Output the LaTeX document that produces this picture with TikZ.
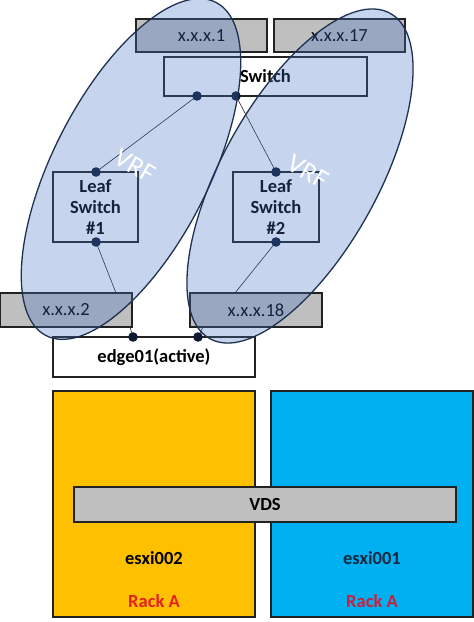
\documentclass[tikz,border=0pt]{standalone}
\usepackage{fontspec}
\setmainfont{Carlito}
\definecolor{boxgray}{HTML}{BFBFBF}
\definecolor{boxline}{HTML}{222222}
\definecolor{ellline}{HTML}{1F3050}
\definecolor{ellfill}{HTML}{4472C4}
\definecolor{dotc}{HTML}{0D1A33}
\definecolor{esxiorange}{HTML}{FFC000}
\definecolor{esxiblue}{HTML}{00B0F0}
\definecolor{rackred}{HTML}{E62020}
\definecolor{rackred2}{HTML}{C8203F}
\tikzset{
  boxnode/.style={draw=boxline, line width=1.2pt, inner sep=0pt, outer sep=0pt, anchor=north west,
    font=\fontsize{18.5}{21}\selectfont, align=center},
  graybox/.style={boxnode, fill=boxgray},
  whitebox/.style={boxnode, fill=white},
  boldtext/.style={font=\fontsize{18.5}{21}\selectfont\bfseries},
  wire/.style={draw=boxline, line width=0.6pt},
  dotmark/.style={fill=dotc},
  vrfell/.style={draw=ellline, line width=1.3pt, fill=ellfill, fill opacity=0.3, draw opacity=1},
  vrflabel/.style={text=white, font=\fontsize{27}{29}\selectfont, rotate=-30, inner sep=0pt},
  lbl/.style={font=\fontsize{18.5}{21}\selectfont\bfseries, inner sep=0pt}
}
\begin{document}
\begin{tikzpicture}[x=1pt,y=-1pt]
\useasboundingbox (0,0) rectangle (474,622);
% top boxes
\node[graybox, minimum width=131pt, minimum height=33pt] (ip1) at (136,19) {x.x.x.1};
\node[graybox, minimum width=131pt, minimum height=33pt] (ip17) at (274,19) {x.x.x.17};
\node[whitebox, boldtext, minimum width=203pt, minimum height=39pt] (sw) at (164,57) {Switch};
\node[boxnode, boldtext, minimum width=85pt, minimum height=70pt] (leaf1) at (53,172) {Leaf\\Switch\\\#1};
\node[boxnode, boldtext, minimum width=86pt, minimum height=70pt] (leaf2) at (233,172) {Leaf\\Switch\\\#2};
\node[graybox, minimum width=132pt, minimum height=34pt] (ip2) at (0,293) {x.x.x.2};
\node[graybox, minimum width=132pt, minimum height=34pt] (ip18) at (190,293) {x.x.x.18};
\node[whitebox, boldtext, minimum width=202pt, minimum height=40pt] (edge) at (53,337) {edge01(active)};
% connection points
\coordinate (s1) at (197,96);
\coordinate (s2) at (236,96);
\coordinate (l1t) at (96,172);
\coordinate (l1b) at (96,242);
\coordinate (l2t) at (276,172);
\coordinate (l2b) at (276,242);
\coordinate (p2t) at (116,293);
\coordinate (p18t) at (235,293);
\coordinate (p2b) at (130,327);
\coordinate (p18b) at (203,327);
\coordinate (e1) at (133,337);
\coordinate (e2) at (198,337);
% wires
\draw[wire] (s1) -- (l1t);
\draw[wire] (s2) -- (l2t);
\draw[wire] (l1b) -- (p2t);
\draw[wire] (l2b) -- (p18t);
\draw[wire] (p2b) -- (e1);
\draw[wire] (p18b) -- (e2);
% dots
\foreach \p in {s1,s2,l1t,l1b,l2t,l2b,e1,e2} \fill[dotmark] (\p) circle (4.8pt);
% VRF ellipses
\draw[vrfell, rotate around={63:(131,169)}] (131,169) ellipse [x radius=187pt, y radius=78pt];
\draw[vrfell, rotate around={61:(300,176)}] (300,176) ellipse [x radius=186pt, y radius=78pt];
\node[vrflabel] (vrf1) at (135,166) {VRF};
\node[vrflabel] (vrf2) at (308,172) {VRF};
% hosts
\node[boxnode, fill=esxiorange, minimum width=202pt, minimum height=226pt] (esxi2) at (53,391) {};
\node[boxnode, fill=esxiblue, minimum width=202pt, minimum height=226pt] (esxi1) at (271,391) {};
\node[graybox, boldtext, minimum width=382pt, minimum height=35pt] (vds) at (74,487) {VDS};
\node[lbl, text=black] (n2) at (154,558) {esxi002};
\node[lbl, text=rackred] (r2) at (154,601) {Rack A};
\node[lbl, text={rgb,255:red,26;green,40;blue,64}] (n1) at (372,558) {esxi001};
\node[lbl, text=rackred2] (r1) at (372,601) {Rack A};
\end{tikzpicture}
\end{document}
